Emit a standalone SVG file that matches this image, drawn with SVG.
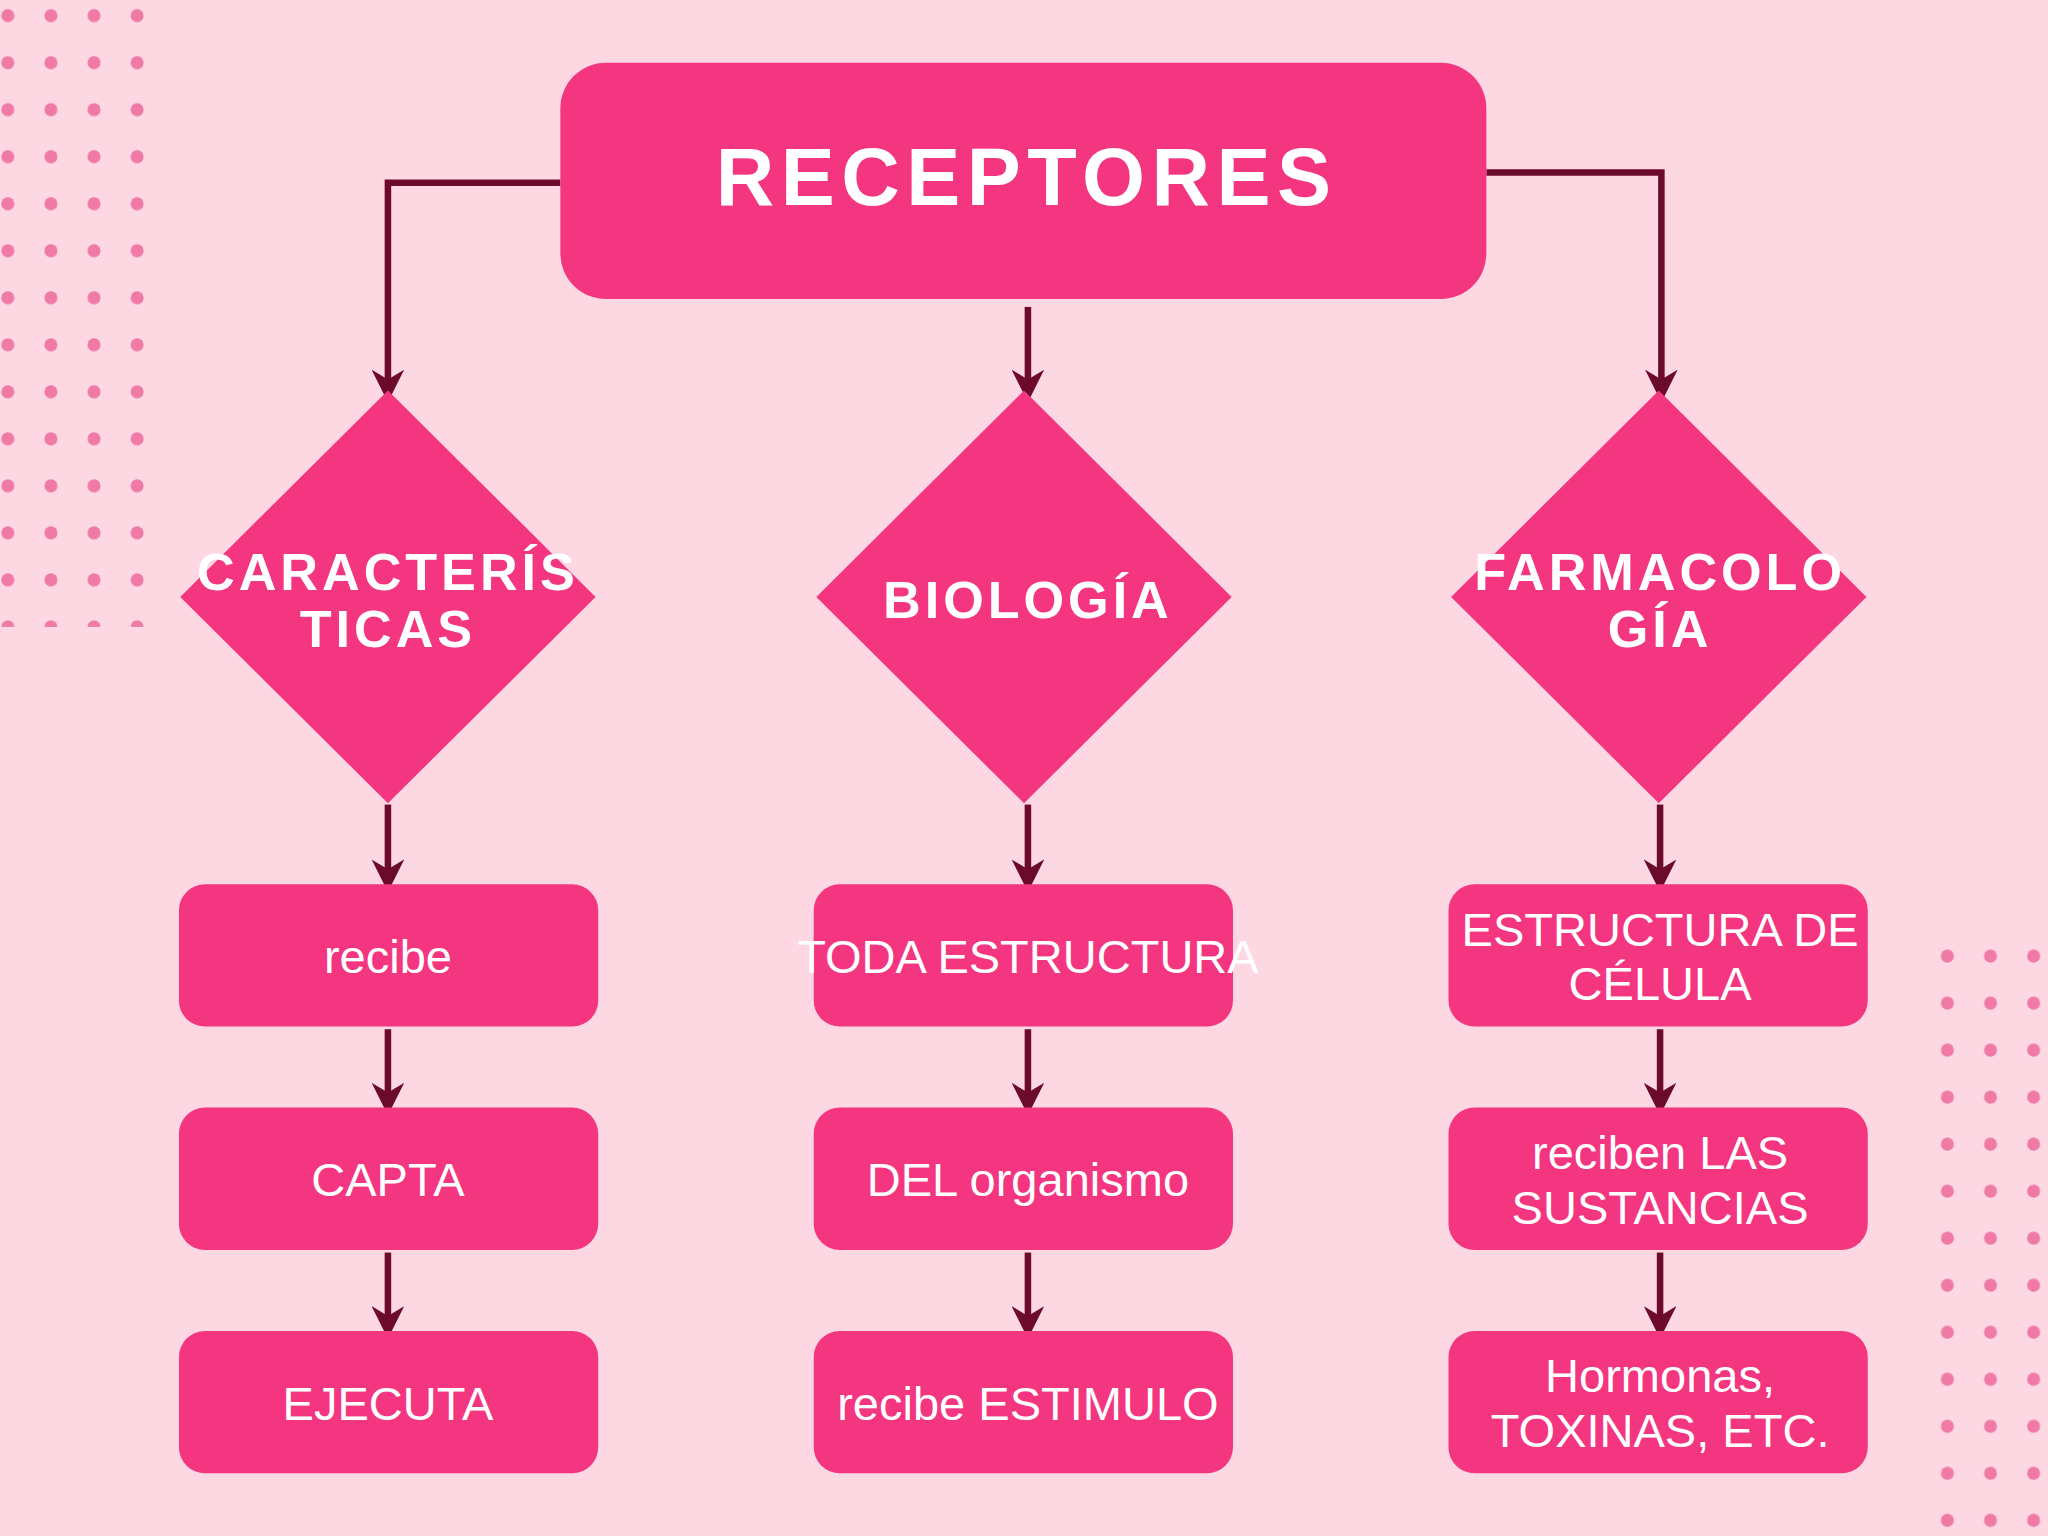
<svg xmlns="http://www.w3.org/2000/svg" width="2048" height="1536" viewBox="0 0 2048 1536">
<defs>
<style>
.n{fill:#f43580}
.c{stroke:#6b0a2a;stroke-width:5;fill:none;marker-end:url(#ah)}
.t{font-family:"Liberation Sans",sans-serif;fill:#fff;text-anchor:middle}
.h{font-weight:bold;font-size:40px;letter-spacing:3px}
.b{font-size:36px;font-stretch:condensed}
.d{fill:#f07aa6}
</style>
<marker id="ah" viewBox="0 0 10 10" refX="6" refY="5" markerWidth="5" markerHeight="5" orient="auto-start-reverse" markerUnits="strokeWidth"><path d="M0,0 L10,5 L0,10 L3,5 z" fill="#6b0a2a"/></marker>
<pattern id="dots" width="33" height="36" patternUnits="userSpaceOnUse"><circle cx="6" cy="12" r="5" class="d"/></pattern>
</defs>
<rect width="2048" height="1536" fill="#fdd8e3"/>
<g transform="scale(1.30612)">
<rect x="0" y="0" width="112" height="480" fill="url(#dots)"/>
<rect x="1465" y="720" width="103" height="450" fill="url(#dots)"/>
<g id="connectors">
<path class="c" d="M429,140 H297 V298"/>
<path class="c" d="M787,235 V298"/>
<path class="c" d="M1138,132 H1272 V298"/>
<path class="c" d="M297,616 V673"/>
<path class="c" d="M787,616 V673"/>
<path class="c" d="M1271,616 V673"/>
<path class="c" d="M297,788 V844"/>
<path class="c" d="M787,788 V844"/>
<path class="c" d="M1271,788 V844"/>
<path class="c" d="M297,959 V1015"/>
<path class="c" d="M787,959 V1015"/>
<path class="c" d="M1271,959 V1015"/>
</g>
<g id="receptores"><rect class="n" x="429" y="48" width="709" height="181" rx="35"/><text class="t" x="786" y="157" font-size="62" font-weight="bold" letter-spacing="5">RECEPTORES</text></g>
<g id="caracteristicas"><polygon class="n" points="297,299 456,457 297,615 138,457"/><text class="t h" x="297" y="452">CARACTERÍS</text><text class="t h" x="297" y="495">TICAS</text></g>
<g id="biologia"><polygon class="n" points="784,299 943,457 784,615 625,457"/><text class="t h" x="787" y="473">BIOLOGÍA</text></g>
<g id="farmacologia"><polygon class="n" points="1270,299 1429,457 1270,615 1111,457"/><text class="t h" x="1271" y="452">FARMACOLO</text><text class="t h" x="1271" y="495">GÍA</text></g>
<g id="recibe"><rect class="n" x="137" y="677" width="321" height="109" rx="20"/><text class="t b" x="297" y="745">recibe</text></g>
<g id="capta"><rect class="n" x="137" y="848" width="321" height="109" rx="20"/><text class="t b" x="297" y="916">CAPTA</text></g>
<g id="ejecuta"><rect class="n" x="137" y="1019" width="321" height="109" rx="20"/><text class="t b" x="297" y="1087">EJECUTA</text></g>
<g id="toda"><rect class="n" x="623" y="677" width="321" height="109" rx="20"/><text class="t b" x="787" y="745">TODA ESTRUCTURA</text></g>
<g id="organismo"><rect class="n" x="623" y="848" width="321" height="109" rx="20"/><text class="t b" x="787" y="916">DEL organismo</text></g>
<g id="estimulo"><rect class="n" x="623" y="1019" width="321" height="109" rx="20"/><text class="t b" x="787" y="1087">recibe ESTIMULO</text></g>
<g id="celula"><rect class="n" x="1109" y="677" width="321" height="109" rx="20"/><text class="t b" x="1271" y="724">ESTRUCTURA DE</text><text class="t b" x="1271" y="766">CÉLULA</text></g>
<g id="sustancias"><rect class="n" x="1109" y="848" width="321" height="109" rx="20"/><text class="t b" x="1271" y="895">reciben LAS</text><text class="t b" x="1271" y="937">SUSTANCIAS</text></g>
<g id="hormonas"><rect class="n" x="1109" y="1019" width="321" height="109" rx="20"/><text class="t b" x="1271" y="1066">Hormonas,</text><text class="t b" x="1271" y="1108">TOXINAS, ETC.</text></g>
</g>
</svg>
